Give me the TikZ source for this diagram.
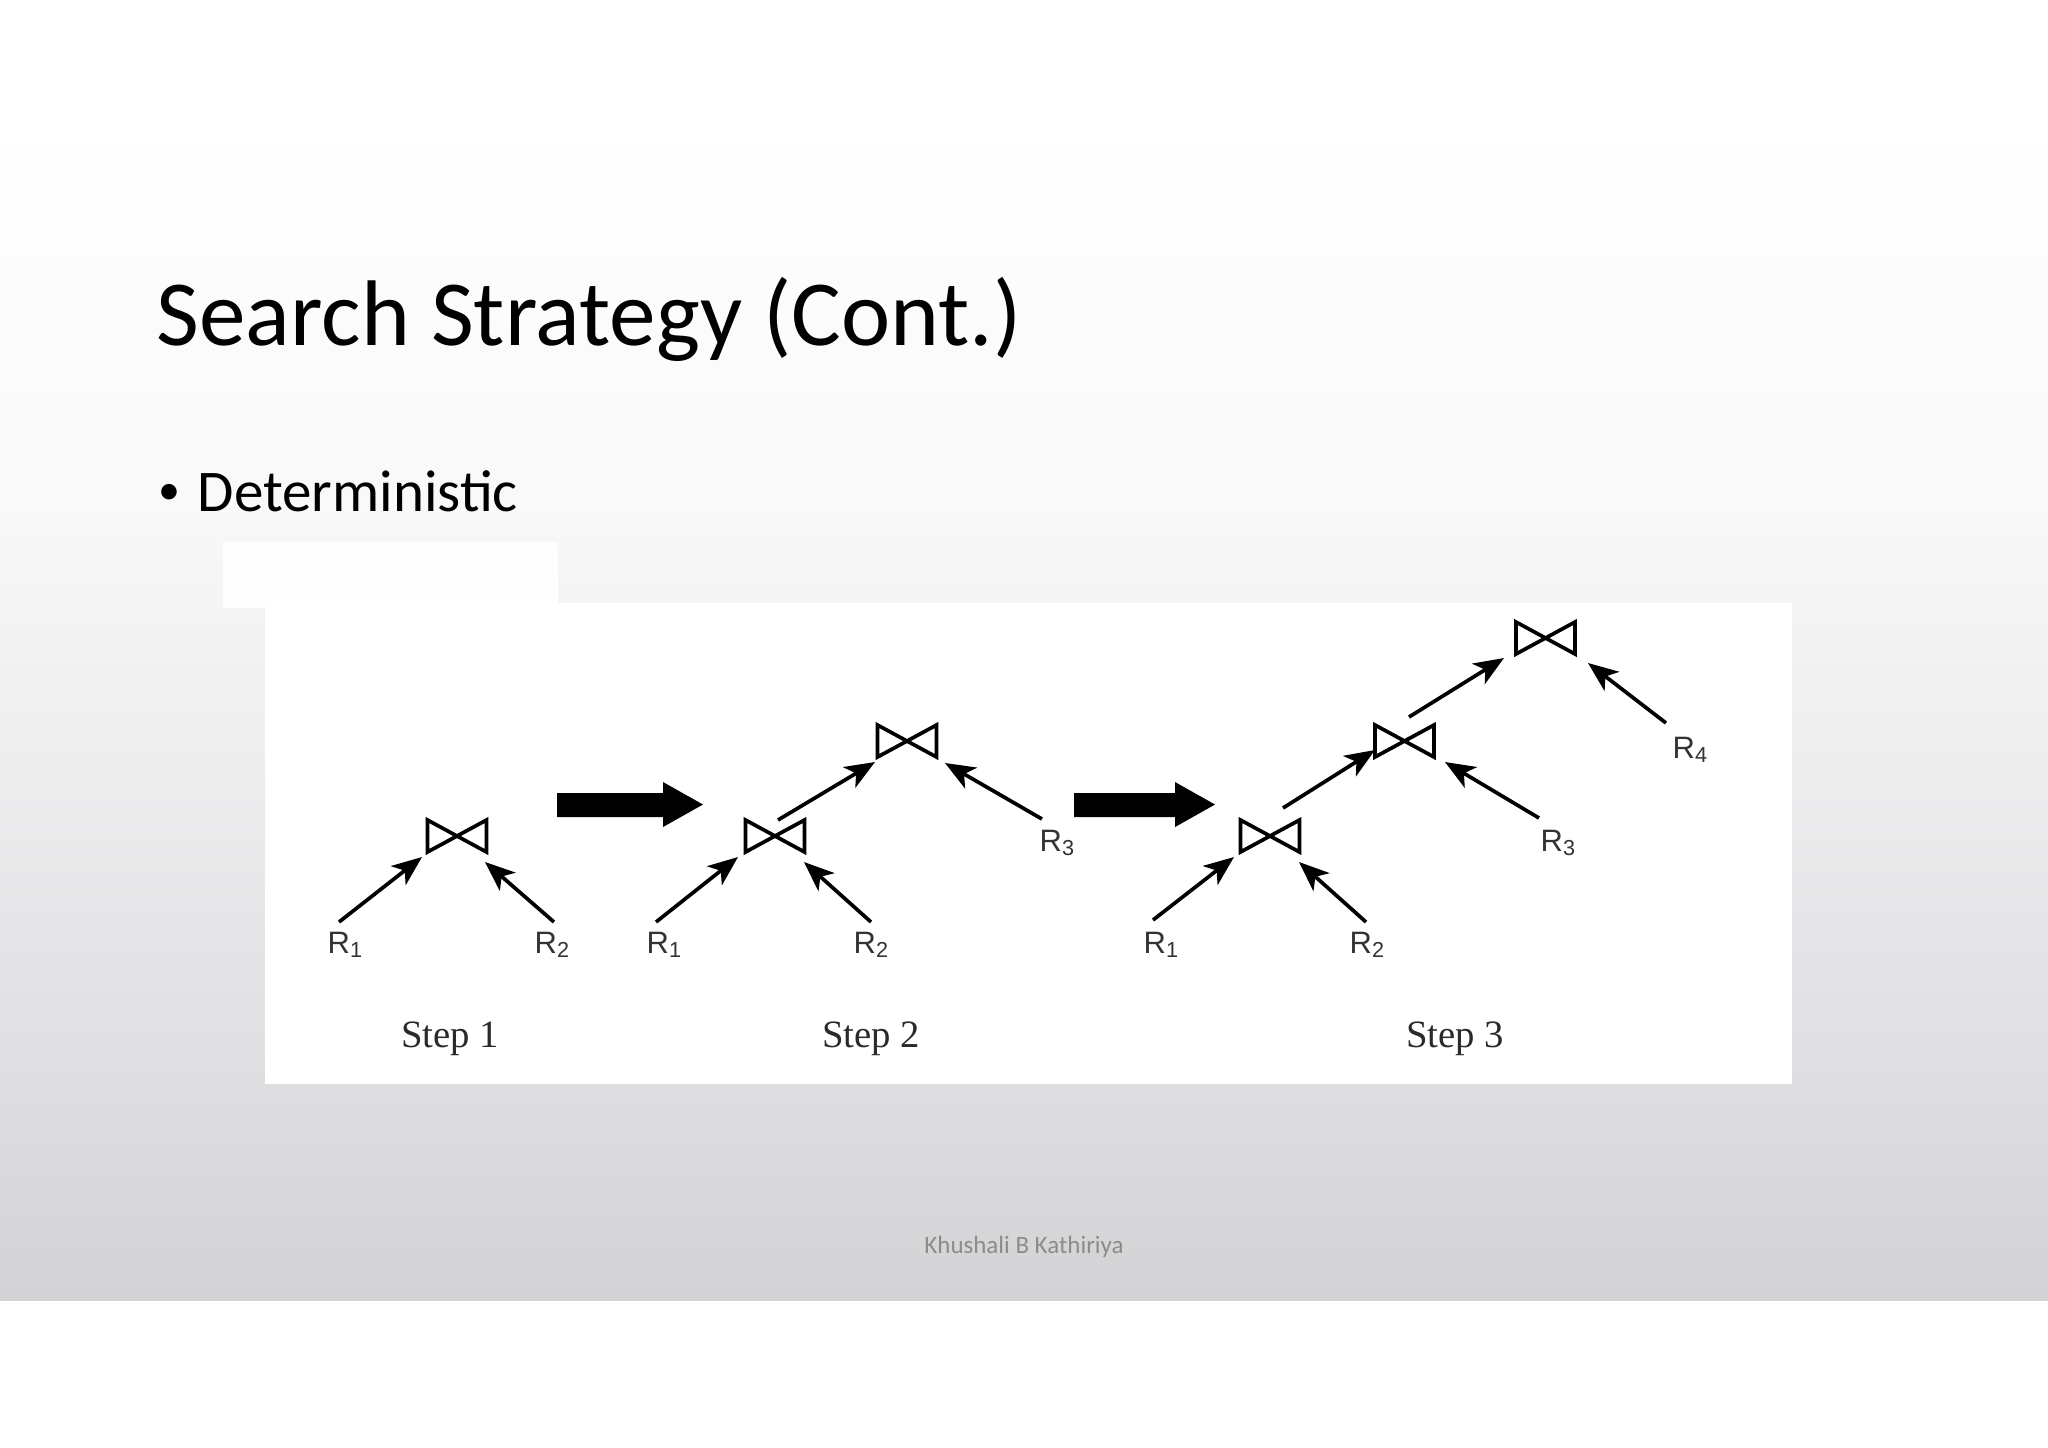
\documentclass[tikz,border=0pt]{standalone}
\usepackage{fontspec}
\setmainfont{Carlito}
\newfontfamily\lsans{Liberation Sans}
\newfontfamily\lserif{Liberation Serif}
\usetikzlibrary{arrows.meta}
\definecolor{bgtop}{HTML}{FEFEFE}
\definecolor{bgmida}{HTML}{F9F9F9}
\definecolor{bgmidb}{HTML}{E7E7E9}
\definecolor{bgbot}{HTML}{D3D3D5}
\definecolor{foot}{HTML}{8C8C8C}
\definecolor{lbl}{HTML}{333333}
\definecolor{stpc}{HTML}{2A2A2A}
\begin{document}
\begin{tikzpicture}[x=0.01cm,y=-0.01cm,
  bt/.style={minimum width=0.59cm,minimum height=0.32cm,inner sep=0pt,outer sep=0pt},
  btline/.style={line width=1.05pt,line join=miter},
  rl/.style={anchor=base west,inner sep=0pt,font=\lsans\fontsize{8.8pt}{10pt}\selectfont,text=lbl},
  stp/.style={anchor=base,inner sep=0pt,font=\lserif\fontsize{11pt}{12pt}\selectfont,text=stpc},
  arr/.style={line width=1.05pt,-{Stealth[length=3mm,width=2.4mm,inset=0.8mm]}},
  bigarr/.style={fill=black}]
\useasboundingbox (0,0) rectangle (2048,1447);
\fill[white] (0,0) rectangle (2048,1447);
\shade[top color=bgtop,bottom color=bgmida] (0,148) rectangle (2048,500);
\shade[top color=bgmida,bottom color=bgmidb] (0,500) rectangle (2048,900);
\shade[top color=bgmidb,bottom color=bgbot] (0,900) rectangle (2048,1300);
% white panels
\fill[white!99.5!black] (223,542) rectangle (558,608);
\fill[white] (265,603) rectangle (1792,1084);

% texts
\node[anchor=base west,inner sep=0pt,font=\fontsize{26.5pt}{30pt}\selectfont] (title) at (156,345) {Search Strategy (Cont.)};
\node[anchor=base west,inner sep=0pt,font=\fontsize{12.5pt}{14pt}\selectfont] (bul) at (158,504) {\textbullet};
\node[anchor=base west,inner sep=0pt,font=\fontsize{16.8pt}{20pt}\selectfont] (det) at (197,511) {Deterministic};
\node[anchor=base,inner sep=0pt,font=\fontsize{7.1pt}{8pt}\selectfont,text=foot] (foot) at (1024,1253) {Khushali B Kathiriya};

% join nodes
\node[bt] (J1) at (457,836) {};
\node[bt] (J2a) at (775,836) {};
\node[bt] (J2b) at (907,741) {};
\node[bt] (J3a) at (1270,836) {};
\node[bt] (J3b) at (1404.5,741) {};
\node[bt] (J3c) at (1545.5,638) {};
\foreach \n in {J1,J2a,J2b,J3a,J3b,J3c}
  \draw[btline] (\n.north west) -- (\n.south east) -- (\n.north east) -- (\n.south west) -- cycle;

% relation labels
\node[rl] (R11) at (327,953) {R\textsubscript{1}};
\node[rl] (R12) at (534,953) {R\textsubscript{2}};
\node[rl] (R21) at (646,953) {R\textsubscript{1}};
\node[rl] (R22) at (853,953) {R\textsubscript{2}};
\node[rl] (R23) at (1039,851) {R\textsubscript{3}};
\node[rl] (R31) at (1143,953) {R\textsubscript{1}};
\node[rl] (R32) at (1349,953) {R\textsubscript{2}};
\node[rl] (R33) at (1540,851) {R\textsubscript{3}};
\node[rl] (R34) at (1672,758) {R\textsubscript{4}};

% step captions
\node[stp] (S1) at (450,1047) {Step 1};
\node[stp] (S2) at (871,1047) {Step 2};
\node[stp] (S3) at (1455,1047) {Step 3};

% step 1
\draw[arr] ([shift={(12,-31)}]R11.base west) -- ([shift={(-35,21)}]J1.center);
\draw[arr] ([shift={(20,-31)}]R12.base west) -- ([shift={(28,26)}]J1.center);
% step 2
\draw[arr] ([shift={(10,-31)}]R21.base west) -- ([shift={(-37,21)}]J2a.center);
\draw[arr] ([shift={(18,-31)}]R22.base west) -- ([shift={(29,26)}]J2a.center);
\draw[arr] ([shift={(3,-16)}]J2a.center) -- ([shift={(-32,21)}]J2b.center);
\draw[arr] ([shift={(3,-32)}]R23.base west) -- ([shift={(38,22)}]J2b.center);
% step 3
\draw[arr] ([shift={(10,-33)}]R31.base west) -- ([shift={(-36,21)}]J3a.center);
\draw[arr] ([shift={(17,-31)}]R32.base west) -- ([shift={(29,26)}]J3a.center);
\draw[arr] ([shift={(13,-28)}]J3a.center) -- ([shift={(-29.5,9)}]J3b.center);
\draw[arr] ([shift={(-1,-33)}]R33.base west) -- ([shift={(40.5,21)}]J3b.center);
\draw[arr] ([shift={(4.5,-24)}]J3b.center) -- ([shift={(-41.5,20)}]J3c.center);
\draw[arr] ([shift={(-6,-35)}]R34.base west) -- ([shift={(42.5,25)}]J3c.center);

% big block arrows
\fill[bigarr] (557,793) -- (663,793) -- (663,782) -- (703,804.5) -- (663,827) -- (663,817) -- (557,817) -- cycle;
\fill[bigarr] (1074,793) -- (1175,793) -- (1175,782) -- (1215,804.5) -- (1175,827) -- (1175,817) -- (1074,817) -- cycle;
\end{tikzpicture}
\end{document}
